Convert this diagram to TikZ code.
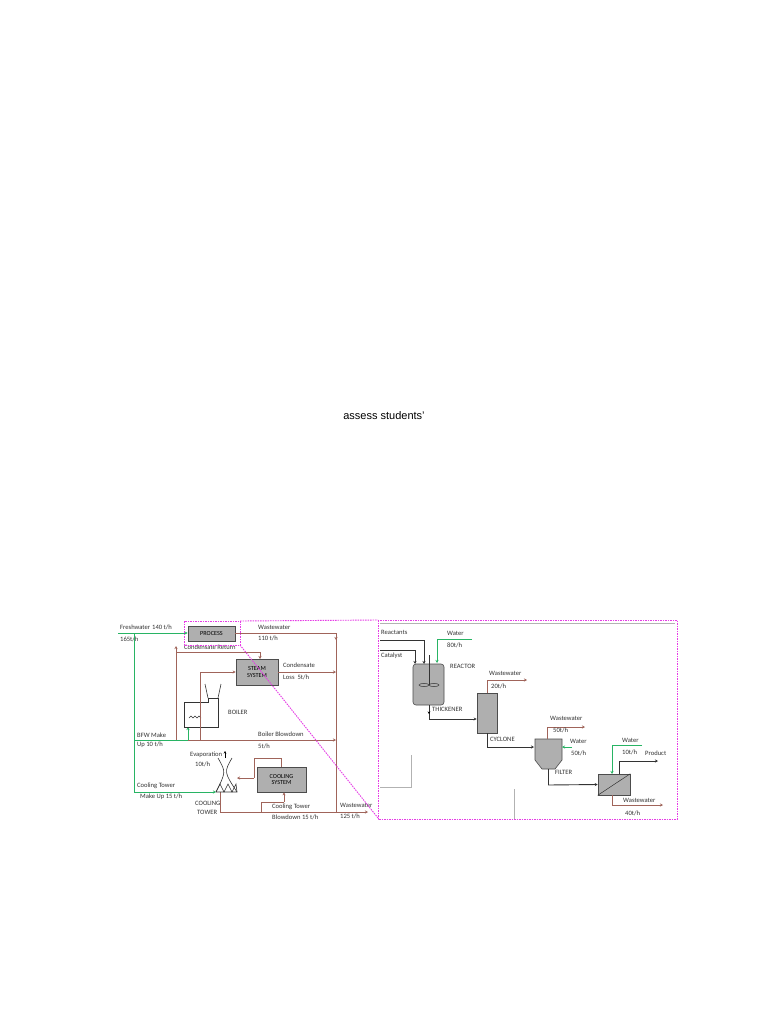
\documentclass[tikz,border=0pt]{standalone}
\usepackage{fontspec}
\setmainfont{Liberation Sans}
\newfontfamily\lab{Carlito}
\usetikzlibrary{arrows.meta}
\definecolor{brn}{RGB}{160,100,90}
\definecolor{grn}{RGB}{40,180,100}
\definecolor{mag}{RGB}{230,60,230}
\definecolor{bx}{RGB}{175,175,175}
\begin{document}
\begin{tikzpicture}[x=1pt,y=-1pt,
  t/.style={anchor=west,inner sep=0pt,font=\lab\fontsize{6.6}{7}\selectfont,text=black!80},
  bw/.style={draw=brn,line width=0.9pt,-{Stealth[length=3pt,width=3pt]}},
  bl/.style={draw=brn,line width=0.9pt},
  gw/.style={draw=grn,line width=1pt,-{Stealth[length=3pt,width=3pt]}},
  gl/.style={draw=grn,line width=1pt},
  kw/.style={draw=black!80,line width=0.9pt,-{Stealth[length=3pt,width=3pt]}},
  unit/.style={draw=black!70,fill=bx,line width=0.6pt,inner sep=0pt,font=\lab\fontsize{6.2}{6.6}\selectfont,align=center},
  md/.style={draw=mag,line width=0.9pt,dash pattern=on 1.5pt off 1pt}]
\useasboundingbox (0,0) rectangle (768,1024);
\fill[white] (0,0) rectangle (768,1024);
\node[font=\fontsize{11}{13}\selectfont] (title) at (384,416) {assess students'};
% ---------- left part ----------
\node[t] (fw) at (120,627) {Freshwater};
\node[t] at (120,639) {165t/h};
\node[t] at (152,627) {140 t/h};
\node[unit,minimum width=47pt,minimum height=15pt] (proc) at (211.5,633.5) {PROCESS};
\node[unit,minimum width=42pt,minimum height=26pt] (steam) at (257,672) {STEAM\\SYSTEM};
\node[unit,minimum width=49pt,minimum height=25pt] (cool) at (281.5,779.5) {COOLING\\SYSTEM};
\coordinate (fwin) at (118,633);
\coordinate (gj) at (134,633);
\draw[gw] (fwin) -- (proc.west|-0,633);
\draw[gl] (gj) -- (134,792) -- (214,792);
\draw[gw] (200,792) -- (216,792);
\draw[gl] (134,740) -- (188,740);
\draw[gw] (188,740) -- (188,727);
% wastewater main
\draw[bw] (proc.east|-0,633) -- (336,633) -- (336,640);
\draw[bl] (336,633) -- (336,812);
\draw[bw] (220,812) -- (368,812);
\draw[bl] (220,792) -- (220,812);
% condensate return
\draw[bw] (260,652) -- (260,659);
\draw[bl] (260,652) -- (176,652) -- (176,740);
\draw[bw] (176,652) -- (176,646);
% condensate loss
\draw[bw] (steam.east|-0,672) -- (336,672);
% boiler
\draw[black!80,line width=0.6pt] (184,727) -- (184,702) -- (208,702) -- (208,698) -- (218,698) -- (218,727) -- cycle;
\draw[black!80,line width=0.6pt] (208,698) -- (205,684) (218,698) -- (221,684);
\draw[black!80,line width=0.5pt] (189,718) -- (191,716) -- (193,718) -- (195,716) -- (197,718) -- (199,716) -- (201,718);
\node[t] (boil) at (228,712) {BOILER};
\draw[bl] (200,740) -- (200,672);
\draw[bw] (200,672) -- (steam.west|-0,672);
\draw[bw] (200,740) -- (336,740);
\draw[bl] (188,740) -- (200,740);
\node[t] at (258,734) {Boiler Blowdown};
\node[t] at (258,746) {5t/h};
\node[t] at (258,627) {Wastewater};
\node[t] at (258,638) {110 t/h};
\node[t] at (184,647) {Condensate Return};
\node[t] at (283,665) {Condensate};
\node[t] at (283,677) {Loss\ \ 5t/h};
\node[t] at (137,735) {BFW Make};
\node[t] at (137,745) {Up 10 t/h};
% cooling tower
\draw[black!80,line width=0.6pt] (218,758) .. controls (226,772) .. (216,792);
\draw[black!80,line width=0.6pt] (232,758) .. controls (224,772) .. (237,792);
\draw[black!80,line width=0.6pt] (216,792) -- (220,784) -- (224,792) -- (228,784) -- (232,792) -- (236,784) -- (237,792) -- (216,792);
\draw[black,line width=0.8pt,-{Stealth[length=2.5pt,width=2.5pt]}] (225,758) -- (225,751);
\node[t] at (190,755) {Evaporation};
\node[t] at (195,764) {10t/h};
\node[t] at (137,786) {Cooling Tower};
\node[t] at (140,797) {Make Up 15 t/h};
\node[t] at (195,803) {COOLING};
\node[t] at (197,812) {TOWER};
\draw[bl] (cool.north-|281,0) -- (281,758) -- (254,758) -- (254,778);
\draw[bw] (254,778) -- (237,778);
\draw[bl] (261,812) -- (261,802) -- (284,802);
\draw[bw] (284,802) -- (cool.south-|284,0);
\node[t] at (272,807) {Cooling Tower};
\node[t] at (272,817) {Blowdown 15 t/h};
\node[t] at (340,805) {Wastewater};
\node[t] at (340,816) {125 t/h};
% magenta
\draw[md] (184,621) rectangle (240,645);
\draw[md] (240,621) -- (378,620);
\draw[md] (240,645) -- (378,818);
\draw[md] (378,620) rectangle (677,819);
% ---------- right part ----------
\draw[black!30,line width=0.5pt] (380,623) -- (675,623);
\draw[black!30,line width=0.5pt] (411,755) -- (411,787) -- (380,787);
\draw[black!30,line width=0.5pt] (514,789) -- (514,819);
\node[t] at (381,632) {Reactants};
\node[t] at (381,656) {Catalyst};
\node[t] at (447,633) {Water};
\node[t] at (447,645) {80t/h};
\node[t] at (450,666) {REACTOR};
\node[draw=black!70,fill=bx,rounded corners=3pt,minimum width=31pt,minimum height=41pt,line width=0.6pt] (reac) at (428.5,684.5) {};
\draw[kw] (380,640) -- (424,640) -- (424,664);
\draw[kw] (380,650) -- (415,650) -- (415,664);
\draw[gl] (472,639) -- (437,639);
\draw[gw] (437,639) -- (437,663);
\draw[black!80,line width=0.6pt] (429,655) -- (429,685);
\draw[black!80,line width=0.5pt] (424,685) ellipse (5pt and 1.6pt) (434,685) ellipse (5pt and 1.6pt);
\node[draw=black!70,fill=bx,minimum width=20pt,minimum height=40pt,inner sep=0pt,line width=0.6pt] (cyc) at (487,713) {};
\draw[black!80,line width=0.9pt] (429,705) -- (429,719);
\draw[kw] (429,719) -- (cyc.west|-0,719);
\draw[black,line width=0.8pt,-{Stealth[length=2.5pt,width=2.5pt]}] (429,712) -- (429,714);
\node[t] at (432,709) {THICKENER};
\draw[bl] (cyc.north) -- (487,680);
\draw[bw] (487,680) -- (527,680);
\node[t] at (489,673) {Wastewater};
\node[t] at (491,686) {20t/h};
\node[t] at (490,739) {CYCLONE};
\draw[draw=black!70,fill=bx,line width=0.6pt] (535,739) -- (562,739) -- (562,760) -- (555,769) -- (542,769) -- (535,760) -- cycle;
\coordinate (filt) at (548,754);
\draw[black!80,line width=0.9pt] (cyc.south) -- (487,747);
\draw[kw] (487,747) -- (534,747);
\node[t] at (555,772) {FILTER};
\draw[bl] (547,739) -- (547,727);
\draw[bw] (547,727) -- (585,727);
\node[t] at (550,718) {Wastewater};
\node[t] at (553,730) {50t/h};
\draw[gw] (572,747) -- (562,747);
\node[t] at (570,741) {Water};
\node[t] at (571,753) {50t/h};
\node[draw=black!70,fill=bx,minimum width=32pt,minimum height=21pt,inner sep=0pt,line width=0.6pt] (memb) at (614,784.5) {};
\draw[black!80,line width=0.5pt] (memb.south west) -- (memb.north east);
\draw[black!80,line width=0.9pt] (548,769) -- (548,785);
\draw[kw] (548,785) -- (memb.west);
\draw[gl] (642,745) -- (612,745);
\draw[gw] (612,745) -- (612,774);
\node[t] at (622,740) {Water};
\node[t] at (622,752) {10t/h};
\draw[black!80,line width=0.9pt] (619,774) -- (619,761);
\draw[kw] (619,761) -- (658,761);
\node[t] at (645,753) {Product};
\draw[bl] (612,795) -- (612,805);
\draw[bw] (612,805) -- (663,805);
\node[t] at (623,800) {Wastewater};
\node[t] at (625,813) {40t/h};
\end{tikzpicture}
\end{document}
